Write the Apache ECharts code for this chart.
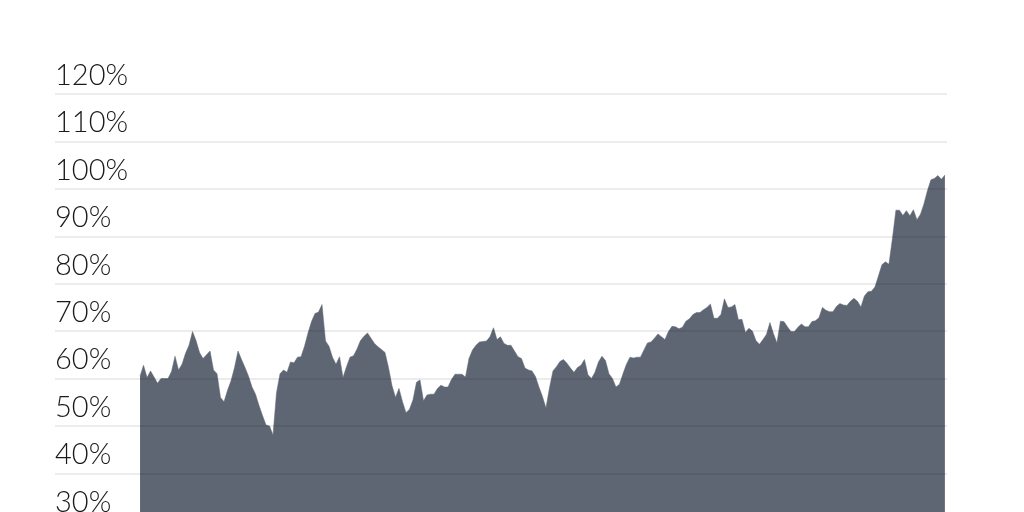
<!DOCTYPE html>
<html>
<head>
<meta charset="utf-8">
<script src="https://cdn.jsdelivr.net/npm/echarts@6/dist/echarts.min.js"></script>
<style>
html,body{margin:0;padding:0;background:#fff;overflow:hidden;width:1024px;height:512px;}
#chart{width:1024px;height:663px;}
</style>
</head>
<body>
<div id="chart"></div>
<script>
// Values in percent, evenly spaced observations (weekly-like)
const values = [
60.5,62.8,60.2,61.6,60.3,59,60,60,60,61.5,
64.7,61.8,63,65.3,67,69.9,68,65.5,64.2,65,
65.8,61.8,61,56,55.1,57.5,59.5,62.3,65.8,64,
62.3,60.5,58.2,56.7,54.3,52.2,50.2,50,48.1,57,
61,61.8,61.3,63.5,63.3,64.5,64.6,66.8,69.6,72,
73.7,74,75.6,67.9,66.8,64.5,63,64.6,60.2,62.5,
64.5,64.8,66.2,68,68.9,69.6,68.5,67.4,66.7,66.1,
65.5,62.3,58.5,56,57.9,55.1,52.8,53.5,55.5,59.2,
59.7,55.3,56.5,56.7,56.7,57.9,58.6,58.2,58.2,59.8,
60.9,60.9,60.9,60.3,64.2,66,67,67.7,67.8,67.9,
68.8,70.7,68.2,68.8,67.4,67,67,65.8,64.6,64.2,
62.2,61.8,61.6,60.4,58.2,56.2,53.8,58,61.6,62.5,
63.6,64,63.2,62.2,61.3,62.3,62.8,64,60.8,60,
61.3,63.5,64.7,63.8,61,60,58.2,58.8,61,63,
64.5,64.3,64.5,64.5,66,67.5,67.7,68.5,69.4,68.8,
68.2,69.9,71,70.9,70.5,70.8,72.1,72.6,73.5,73.9,
73.9,74.5,75,75.7,72.7,72.7,73.5,76.8,75,75.1,
75.6,72.4,72.5,69.7,70.6,70,68,67.2,68.2,69.3,
71.8,69.5,67.5,72.1,72,70.9,69.9,69.9,70.8,71.5,
70.9,70.9,72,72.2,72.8,75,74.4,74.1,74.1,75.2,
75.8,75.5,75.4,76.3,76.9,76.3,75.1,77.4,78.3,78.4,
79.3,81.6,84,84.6,84.1,89.5,95.5,95.5,94.4,95.4,
94.3,95.6,93.5,94.6,96.8,99.6,101.9,102.2,102.8,102,
102.9
];
const yMin = 0, yMax = 120, yStep = 10;
const tickSuffix = '%';

const chart = echarts.init(document.getElementById('chart'), null, {renderer:'canvas'});
const n = values.length;
chart.setOption({
  animation: false,
  backgroundColor: '#ffffff',
  grid: { left: 55, right: 77, top: 94, bottom: 0, containLabel: false },
  xAxis: {
    type: 'value',
    min: -24.3,
    max: (n - 1) + 0.6,
    show: false
  },
  yAxis: {
    type: 'value',
    min: yMin, max: yMax, interval: yStep,
    z: 5,
    axisLine: { show: false },
    axisTick: { show: false },
    splitLine: { show: true, lineStyle: { color: 'rgba(0,0,0,0.1)', width: 1.5 } },
    axisLabel: {
      inside: true,
      margin: 0,
      align: 'left',
      verticalAlign: 'bottom',
      padding: [0, 0, 4, 0],
      fontFamily: 'Lato',
      fontWeight: 300,
      fontSize: 29,
      color: '#1a1a1a',
      formatter: v => v + tickSuffix
    }
  },
  series: [{
    type: 'line',
    data: values.map((v, i) => [i, v]),
    symbol: 'none',
    z: 2,
    lineStyle: { width: 0.5, color: '#5f6673' },
    areaStyle: { color: '#5f6673', opacity: 1 }
  }]
});
</script>
</body>
</html>
